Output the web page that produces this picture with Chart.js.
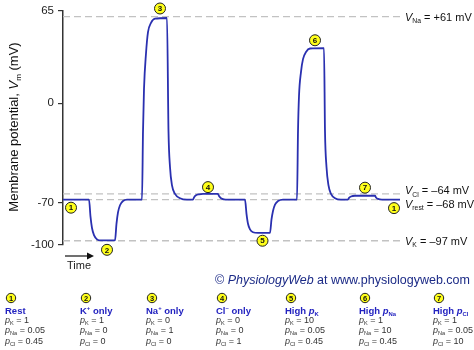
<!DOCTYPE html>
<html>
<head>
<meta charset="utf-8">
<script src="https://cdn.jsdelivr.net/npm/chart.js@4"></script>
<style>
  html, body { margin: 0; padding: 0; background: #fff; }
  #wrap { width: 474px; height: 350px; }
</style>
</head>
<body>
<div id="wrap"><canvas id="mainChart" width="474" height="350"></canvas></div>
<script>
// membrane potential trace (time in arbitrary units, Vm in mV)
const time = [0, 26, 27.5, 29, 31, 34, 38, 52, 53.5, 55, 57, 60, 64,
  79, 80, 81, 83, 85, 88, 92, 104, 105.5, 107, 109, 112, 117, 124,
  130, 131, 133, 136, 140, 155, 156, 158, 161, 165,
  182, 183.5, 185, 187, 190, 195, 207, 208.5, 210, 212, 215, 220,
  234, 235, 236, 238, 240, 243, 247, 261, 262, 263.5, 265.5, 268, 272, 278,
  285, 286, 288, 292, 312, 313, 315, 319, 337];
const vm = [-68, -68, -80, -88, -93, -96, -96.8, -96.8, -85, -77, -72, -69, -68,
  -68, -20, 10, 35, 50, 56.5, 59.5, 60, -20, -45, -58, -64, -67, -68,
  -68, -66.5, -65, -64.3, -64, -64, -65.5, -67, -67.8, -68,
  -68, -78, -85, -89, -91, -91.5, -91.5, -82, -76, -71.5, -69, -68,
  -68, -20, 5, 22, 31, 36, 38.5, 38.8, -20, -45, -58, -64, -67, -68,
  -68, -66.8, -65.8, -65.3, -65.3, -66.5, -67.5, -68, -68];

// equilibrium / resting potentials (dashed lines)
const refLevels = [61, -64, -68, -97];
const refNames = ['Na', 'Cl', 'rest', 'K'];
const refValues = ['+61', '–64', '–68', '–97'];

// numbered markers on the trace
const markerT = [8, 44, 97, 145, 199.5, 252, 302, 331];
const markerV = [-73.7, -103.4, 66.7, -59.2, -97, 44.3, -59.6, -74];
const markerNum = ['1', '2', '3', '4', '5', '6', '7', '1'];

const yTicks = [65, 0, -70, -100];

// legend (permeability conditions)
const condNum = ['1', '2', '3', '4', '5', '6', '7'];
const pK = ['1', '1', '0', '0', '10', '1', '1'];
const pNa = ['0.05', '0', '1', '0', '0.05', '10', '0.05'];
const pCl = ['0.45', '0', '0', '1', '0.45', '0.45', '10'];
const condTitle = [
  [{t: 'Rest', b: 1}],
  [{t: 'K', b: 1}, {t: '+', b: 1, sup: 1}, {t: ' only', b: 1}],
  [{t: 'Na', b: 1}, {t: '+', b: 1, sup: 1}, {t: ' only', b: 1}],
  [{t: 'Cl', b: 1}, {t: '–', b: 1, sup: 1}, {t: ' only', b: 1}],
  [{t: 'High ', b: 1}, {t: 'p', b: 1, i: 1}, {t: 'K', b: 1, sub: 1}],
  [{t: 'High ', b: 1}, {t: 'p', b: 1, i: 1}, {t: 'Na', b: 1, sub: 1}],
  [{t: 'High ', b: 1}, {t: 'p', b: 1, i: 1}, {t: 'Cl', b: 1, sub: 1}]
];

const FONT = '"Liberation Sans", Arial, sans-serif';
const legendX = [5, 80, 146, 216, 285, 359, 433];

function runFont(r, size) {
  const s = (r.sub || r.sup) ? size * 0.62 : size;
  return (r.i ? 'italic ' : '') + (r.b ? 'bold ' : '') + s.toFixed(1) + 'px ' + FONT;
}
function runsWidth(ctx, runs, size) {
  let w = 0;
  runs.forEach(r => { ctx.font = runFont(r, size); w += ctx.measureText(r.t).width; });
  return w;
}
function drawRuns(ctx, x, y, runs, size, color, center) {
  let cx = center ? x - runsWidth(ctx, runs, size) / 2 : x;
  ctx.fillStyle = color;
  ctx.textAlign = 'left';
  ctx.textBaseline = 'alphabetic';
  runs.forEach(r => {
    ctx.font = runFont(r, size);
    const dy = r.sub ? size * 0.25 : (r.sup ? -size * 0.38 : 0);
    ctx.fillText(r.t, cx, y + dy);
    cx += ctx.measureText(r.t).width;
  });
}
function badge(ctx, x, y, r, label) {
  ctx.beginPath();
  ctx.arc(x, y, r, 0, Math.PI * 2);
  ctx.fillStyle = '#ffff1a';
  ctx.fill();
  ctx.lineWidth = 1;
  ctx.strokeStyle = '#222';
  ctx.stroke();
  ctx.fillStyle = '#111';
  ctx.font = 'bold 7.5px ' + FONT;
  ctx.textAlign = 'center';
  ctx.textBaseline = 'middle';
  ctx.fillText(label, x, y + 0.5);
}

const annotations = {
  id: 'annotations',
  afterDatasetsDraw(chart) {
    const ctx = chart.ctx;
    const y = chart.scales.y;
    ctx.save();

    // marker numbers
    const meta = chart.getDatasetMeta(chart.data.datasets.length - 1);
    meta.data.forEach((p, i) => {
      ctx.fillStyle = '#111';
      ctx.font = 'bold 8px ' + FONT;
      ctx.textAlign = 'center';
      ctx.textBaseline = 'middle';
      ctx.fillText(markerNum[i], p.x, p.y + 0.5);
    });

    // y-axis title
    ctx.save();
    ctx.translate(18, 127);
    ctx.rotate(-Math.PI / 2);
    drawRuns(ctx, 0, 0, [{t: 'Membrane potential, '}, {t: 'V', i: 1}, {t: 'm', sub: 1}, {t: ' (mV)'}], 13, '#111', true);
    ctx.restore();

    // labels for dashed lines
    refLevels.forEach((v, i) => {
      let py = y.getPixelForValue(v) + 4;
      if (refNames[i] === 'Cl') py -= 4;
      if (refNames[i] === 'rest') py += 4;
      drawRuns(ctx, 405, py, [{t: 'V', i: 1}, {t: refNames[i], sub: 1}, {t: ' = ' + refValues[i] + ' mV'}], 11, '#111');
    });

    // time arrow
    ctx.strokeStyle = '#111';
    ctx.lineWidth = 1.2;
    ctx.beginPath();
    ctx.moveTo(65, 256);
    ctx.lineTo(89, 256);
    ctx.stroke();
    ctx.fillStyle = '#111';
    ctx.beginPath();
    ctx.moveTo(94, 256);
    ctx.lineTo(87, 252.5);
    ctx.lineTo(87, 259.5);
    ctx.closePath();
    ctx.fill();
    drawRuns(ctx, 67, 269, [{t: 'Time'}], 11, '#222');

    // copyright
    drawRuns(ctx, 215, 284, [{t: '© '}, {t: 'PhysiologyWeb', i: 1}, {t: ' at www.physiologyweb.com'}], 12.5, '#1b2a86');

    // legend
    condNum.forEach((n, i) => {
      const x = legendX[i];
      badge(ctx, x + 6, 298, 4.7, n);
      drawRuns(ctx, x, 314, condTitle[i], 9.5, '#2323c0');
      drawRuns(ctx, x, 322.5, [{t: 'p', i: 1}, {t: 'K', sub: 1}, {t: ' = ' + pK[i]}], 9, '#333');
      drawRuns(ctx, x, 333, [{t: 'p', i: 1}, {t: 'Na', sub: 1}, {t: ' = ' + pNa[i]}], 9, '#333');
      drawRuns(ctx, x, 343.5, [{t: 'p', i: 1}, {t: 'Cl', sub: 1}, {t: ' = ' + pCl[i]}], 9, '#333');
    });
    ctx.restore();
  }
};

const tMax = time[time.length - 1];
const datasets = [{
  data: time.map((t, i) => ({x: t, y: vm[i]})),
  borderColor: '#2a30b0',
  borderWidth: 1.8,
  pointRadius: 0,
  cubicInterpolationMode: 'monotone',
  order: 1
}];
refLevels.forEach(v => datasets.push({
  data: [{x: 0, y: v}, {x: tMax, y: v}],
  borderColor: '#c2c2c2',
  borderWidth: 1.3,
  borderDash: [7, 4],
  pointRadius: 0,
  order: 2
}));
datasets.push({
  data: markerT.map((t, i) => ({x: t, y: markerV[i]})),
  showLine: false,
  pointRadius: 5.5,
  pointBackgroundColor: '#ffff1a',
  pointBorderColor: '#222',
  pointBorderWidth: 1,
  clip: false,
  order: 0
});

new Chart(document.getElementById('mainChart'), {
  type: 'line',
  data: { datasets },
  plugins: [annotations],
  options: {
    responsive: false,
    animation: false,
    devicePixelRatio: 1,
    layout: { padding: { left: 0, top: 10.5, right: 74, bottom: 105 } },
    plugins: { legend: { display: false }, tooltip: { enabled: false } },
    scales: {
      x: { type: 'linear', min: 0, max: tMax, display: false },
      y: {
        min: -100, max: 65,
        afterBuildTicks: s => { s.ticks = yTicks.map(v => ({value: v})); },
        afterFit: s => { s.width = 63; },
        ticks: { color: '#222', font: { family: FONT, size: 11.5 }, padding: 4 },
        grid: { drawOnChartArea: false, drawTicks: true, tickLength: 5, color: '#333', lineWidth: 1.2 },
        border: { color: '#333', width: 1.5 }
      }
    }
  }
});
</script>
</body>
</html>
